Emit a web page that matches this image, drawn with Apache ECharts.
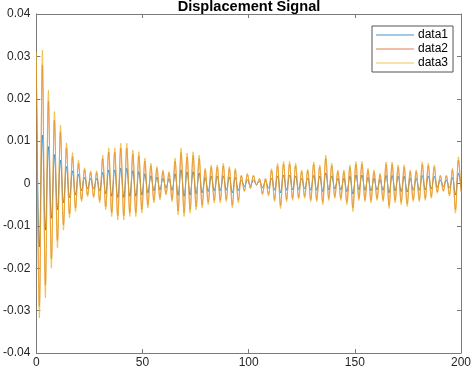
<!DOCTYPE html>
<html>
<head>
<meta charset="utf-8">
<script src="https://cdn.jsdelivr.net/npm/echarts@6/dist/echarts.min.js"></script>
<style>html,body{margin:0;padding:0;background:#fff;}#c{width:474px;height:370px;}</style>
</head>
<body>
<div id="c"></div>
<script>
// Sample times (extrema of the oscillation)
var time = [0,1.42,2.84,4.26,5.68,7.10,8.52,9.94,11.36,12.78,14.20,15.62,17.04,18.46,19.88,21.30,22.72,24.14,25.56,26.98,28.40,29.82,31.24,32.66,34.08,35.50,36.92,38.34,39.76,41.18,42.60,44.02,45.44,46.86,48.28,49.70,51.12,52.54,53.96,55.38,56.80,58.22,59.64,61.06,62.48,63.90,65.32,66.74,68.16,69.58,71.00,72.42,73.84,75.26,76.68,78.10,79.52,80.94,82.36,83.78,85.20,86.62,88.04,89.46,90.88,92.30,93.72,95.14,96.56,97.98,99.40,100.82,102.24,103.66,105.08,106.50,107.92,109.34,110.76,112.18,113.60,115.02,116.44,117.86,119.28,120.70,122.12,123.54,124.96,126.38,127.80,129.22,130.64,132.06,133.48,134.90,136.32,137.74,139.16,140.58,142.00,143.42,144.84,146.26,147.68,149.10,150.52,151.94,153.36,154.78,156.20,157.62,159.04,160.46,161.88,163.30,164.72,166.14,167.56,168.98,170.40,171.82,173.24,174.66,176.08,177.50,178.92,180.34,181.76,183.18,184.60,186.02,187.44,188.86,190.28,191.70,193.12,194.54,195.96,197.38,198.80,200.00];

var data1 = [0.026,-0.015,0.0114,-0.011,0.0087,-0.0082,0.0068,-0.0062,0.0055,-0.0046,0.004,-0.0034,0.003,-0.0027,0.0022,-0.0017,0.0015,-0.0012,0.0012,-0.0013,0.0012,-0.0018,0.0026,-0.0024,0.0032,-0.003,0.0032,-0.0033,0.0036,-0.0033,0.0036,-0.003,0.003,-0.003,0.0028,-0.0027,0.0023,-0.0022,0.0018,-0.0017,0.0015,-0.0015,0.0012,-0.001,0.0011,-0.0016,0.0023,-0.0028,0.0032,-0.003,0.0027,-0.0027,0.0028,-0.0024,0.0025,-0.0022,0.0014,-0.0019,0.0017,-0.0017,0.0017,-0.0017,0.0018,-0.0016,0.0015,-0.0022,0.0014,-0.0017,0.0008,-0.0007,0.0009,-0.0005,0.0008,-0.0002,0.0005,-0.001,0.0005,-0.0011,0.0013,-0.0016,0.0018,-0.0022,0.002,-0.0016,0.002,-0.0015,0.0018,-0.0014,0.0012,-0.0013,0.0013,-0.0016,0.0019,-0.0016,0.0017,-0.0019,0.0025,-0.0015,0.0018,-0.0013,0.0012,-0.0015,0.0012,-0.0019,0.0017,-0.0025,0.002,-0.0015,0.002,-0.0016,0.0014,-0.0017,0.0012,-0.0015,0.0009,-0.0016,0.0019,-0.0022,0.0019,-0.0017,0.0017,-0.0019,0.0017,-0.002,0.0012,-0.0016,0.0012,-0.0016,0.0019,-0.0015,0.0018,-0.0013,0.0017,-0.0009,0.0008,-0.0007,0.0008,-0.0011,0.0014,-0.0027,0.0024,-0.0008];

var data2 = [0.028,-0.029,0.028,-0.024,0.0195,-0.0178,0.015,-0.0135,0.0122,-0.0098,0.0085,-0.0072,0.0064,-0.0058,0.0048,-0.0038,0.0033,-0.0027,0.0026,-0.003,0.0026,-0.004,0.0059,-0.0055,0.0074,-0.0069,0.0074,-0.0076,0.0084,-0.0076,0.0084,-0.0069,0.007,-0.0069,0.0066,-0.0062,0.0053,-0.0051,0.0042,-0.004,0.0035,-0.0034,0.0028,-0.0024,0.0025,-0.0038,0.0053,-0.0065,0.0073,-0.0069,0.0063,-0.0062,0.0066,-0.0055,0.0059,-0.0051,0.0032,-0.0044,0.0039,-0.004,0.0039,-0.004,0.0042,-0.0038,0.0035,-0.0051,0.0032,-0.004,0.0018,-0.0017,0.0021,-0.0011,0.0018,-0.0004,0.0011,-0.0024,0.0011,-0.0026,0.0031,-0.0038,0.0042,-0.0052,0.0046,-0.0038,0.0046,-0.0035,0.0042,-0.0033,0.0028,-0.0031,0.003,-0.0038,0.0045,-0.0038,0.0039,-0.0044,0.0059,-0.0035,0.0042,-0.0031,0.0028,-0.0035,0.0028,-0.0044,0.0039,-0.0058,0.0046,-0.0035,0.0046,-0.0038,0.0032,-0.004,0.0028,-0.0035,0.0021,-0.0038,0.0045,-0.0052,0.0045,-0.004,0.0039,-0.0044,0.0039,-0.0048,0.0028,-0.0038,0.0028,-0.0038,0.0045,-0.0035,0.0042,-0.0031,0.0039,-0.002,0.0018,-0.0017,0.0018,-0.0026,0.0032,-0.0062,0.0055,-0.0018];

var data3 = [0.031,-0.0317,0.0315,-0.027,0.022,-0.020,0.017,-0.0152,0.0138,-0.011,0.0096,-0.0081,0.0073,-0.0066,0.0055,-0.0043,0.0037,-0.0031,0.003,-0.0034,0.003,-0.0046,0.0067,-0.0062,0.0084,-0.0078,0.0084,-0.0086,0.0095,-0.0086,0.0095,-0.0078,0.0079,-0.0078,0.0075,-0.007,0.006,-0.0058,0.0048,-0.0046,0.004,-0.0039,0.0032,-0.0027,0.0028,-0.0043,0.006,-0.0074,0.0083,-0.0078,0.0072,-0.007,0.0075,-0.0062,0.0067,-0.0058,0.0036,-0.005,0.0044,-0.0046,0.0044,-0.0046,0.0048,-0.0043,0.004,-0.0058,0.0036,-0.0046,0.002,-0.0019,0.0024,-0.0012,0.002,-0.0004,0.0012,-0.0027,0.0012,-0.003,0.0035,-0.0043,0.0048,-0.0059,0.0052,-0.0043,0.0052,-0.004,0.0048,-0.0037,0.0032,-0.0035,0.0034,-0.0043,0.0051,-0.0043,0.0044,-0.005,0.0067,-0.004,0.0048,-0.0035,0.0032,-0.004,0.0032,-0.005,0.0044,-0.0066,0.0052,-0.004,0.0052,-0.0043,0.0036,-0.0046,0.0032,-0.004,0.0024,-0.0043,0.0051,-0.0059,0.0051,-0.0046,0.0044,-0.005,0.0044,-0.0054,0.0032,-0.0043,0.0032,-0.0043,0.0051,-0.004,0.0048,-0.0035,0.0044,-0.0023,0.002,-0.0019,0.002,-0.003,0.0036,-0.007,0.0063,-0.002];

var seriesNames = ['data1','data2','data3'];
var xTicks = [0,50,100,150,200];
var yTicks = [-0.04,-0.03,-0.02,-0.01,0,0.01,0.02,0.03,0.04];

function pairs(vals){ return vals.map(function(v,i){ return [time[i], v]; }); }

var font = "'Liberation Sans', Arial, Helvetica, sans-serif";
var axisCol = '#7a7a7a';
var colors = ['#0072BD','#D95319','#EDB120'];

var chart = echarts.init(document.getElementById('c'), null, {renderer:'canvas'});
var baseX = {
  type:'value', min: xTicks[0], max: xTicks[xTicks.length-1], interval: 50,
  axisLine:{show:true, onZero:false, lineStyle:{color:axisCol, width:1}},
  axisTick:{show:true, inside:true, length:4, lineStyle:{color:axisCol}},
  splitLine:{show:false}
};
var baseY = {
  type:'value', min: yTicks[0], max: yTicks[yTicks.length-1], interval: 0.01,
  axisLine:{show:true, onZero:false, lineStyle:{color:axisCol, width:1}},
  axisTick:{show:true, inside:true, length:4, lineStyle:{color:axisCol}},
  splitLine:{show:false}
};
chart.setOption({
  animation:false,
  backgroundColor:'#fff',
  color: colors,
  title:{text:'Displacement Signal', left:249, textAlign:'center', top:-1, padding:0,
    textStyle:{fontFamily:font, fontSize:14.6, fontWeight:'bold', color:'#000'}},
  grid:{left:35, right:11, top:14, bottom:17, containLabel:false},
  legend:{
    data: seriesNames, orient:'vertical', left:372, top:26,
    padding:[3,5,3,4], itemGap:2, itemWidth:38, itemHeight:12,
    borderColor:'#555', borderWidth:1, backgroundColor:'#fff',
    textStyle:{fontFamily:font, fontSize:12, color:'#000', padding:[0,0,0,-1]},
    icon: 'path://M0,5 L38,5 L38,6 L0,6 Z',
    itemStyle:{opacity:0.75}
  },
  xAxis:[
    Object.assign({}, baseX, {position:'bottom',
      axisLabel:{show:true, margin:4, color:'#262626', fontFamily:font, fontSize:12}}),
    Object.assign({}, baseX, {position:'top', axisLabel:{show:false}})
  ],
  yAxis:[
    Object.assign({}, baseY, {position:'left',
      axisLabel:{show:true, margin:6, color:'#262626', fontFamily:font, fontSize:12}}),
    Object.assign({}, baseY, {position:'right', axisLabel:{show:false}})
  ],
  series:[data1,data2,data3].map(function(d,i){
    return {name: seriesNames[i], type:'line', data: pairs(d), xAxisIndex:0, yAxisIndex:0,
      showSymbol:false, symbol:'none', smooth:0.35, clip:true,
      lineStyle:{width:0.7, color: colors[i]}, itemStyle:{color: colors[i]}};
  })
});
</script>
</body>
</html>
